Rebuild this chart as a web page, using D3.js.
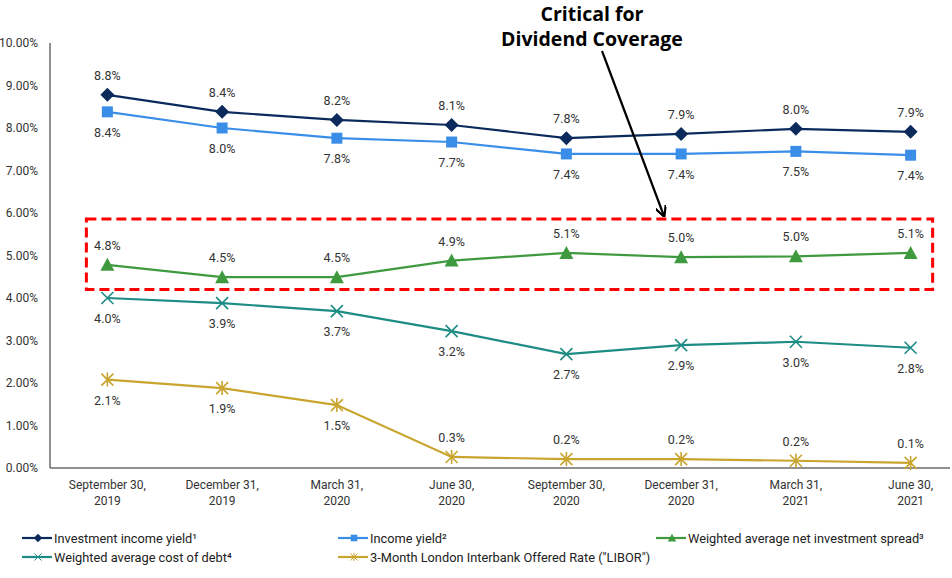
<!DOCTYPE html>
<html>
  <head>
    <style>
      body,
      html {
        margin: 0;
        padding: 0;
        background: #fff;
        font-family: "Roboto", sans-serif;
        overflow: hidden;
      }
    </style>
    <script src="https://d3js.org/d3.v7.min.js"></script>
    <title>Yield and Spread</title>
  </head>

  <body>
    <svg id="chart" width="952" height="578"></svg>

    <script>
      // quarter ends
      var dates = [
        ["September 30,", "2019"],
        ["December 31,", "2019"],
        ["March 31,", "2020"],
        ["June 30,", "2020"],
        ["September 30,", "2020"],
        ["December 31,", "2020"],
        ["March 31,", "2021"],
        ["June 30,", "2021"],
      ];
      var yTicks = [0, 1, 2, 3, 4, 5, 6, 7, 8, 9, 10];

      var investmentIncomeYield = [8.78, 8.38, 8.19, 8.07, 7.76, 7.86, 7.98, 7.91];
      var incomeYield = [8.38, 8.0, 7.76, 7.67, 7.39, 7.39, 7.45, 7.36];
      var netSpread = [4.78, 4.49, 4.49, 4.88, 5.06, 4.96, 4.98, 5.06];
      var costOfDebt = [4.0, 3.88, 3.69, 3.22, 2.68, 2.89, 2.97, 2.83];
      var libor = [2.08, 1.88, 1.48, 0.26, 0.21, 0.21, 0.17, 0.12];

      var series = [
        { name: "Investment income yield\u00b9", values: investmentIncomeYield, color: "#0b2a5b", marker: "diamond", labelPos: "above" },
        { name: "Income yield\u00b2", values: incomeYield, color: "#3a8ee8", marker: "square", labelPos: "below" },
        { name: "Weighted average net investment spread\u00b3", values: netSpread, color: "#3f9a3f", marker: "triangle", labelPos: "above" },
        { name: "Weighted average cost of debt\u2074", values: costOfDebt, color: "#1c8c84", marker: "cross", labelPos: "below" },
        { name: "3-Month London Interbank Offered Rate (\"LIBOR\")", values: libor, color: "#c9a42e", marker: "asterisk", labelPos: "libor" },
      ];

      var svg = d3.select("#chart");
      var plotLeft = 50, plotTop = 43, plotBottom = 468;

      var x = d3
        .scalePoint()
        .domain(d3.range(dates.length))
        .range([plotLeft, 968])
        .padding(0.5);

      var y = d3.scaleLinear().domain([0, 10]).range([plotBottom, plotTop]);

      // y axis labels
      var yAxis = svg
        .append("g")
        .attr("transform", "translate(" + plotLeft + ",0)")
        .call(
          d3
            .axisLeft(y)
            .tickValues(yTicks)
            .tickSize(0)
            .tickPadding(12)
            .tickFormat(function (d) {
              return d.toFixed(2) + "%";
            })
        );
      yAxis.select(".domain").remove();
      yAxis
        .selectAll("text")
        .attr("font-family", "Roboto")
        .attr("font-size", 12)
        .attr("fill", "#333");

      svg
        .append("line")
        .attr("x1", plotLeft)
        .attr("x2", plotLeft)
        .attr("y1", y(10))
        .attr("y2", y(0))
        .attr("stroke", "#6b6b6b")
        .attr("stroke-width", 1.5);

      svg
        .append("line")
        .attr("x1", plotLeft)
        .attr("x2", 950)
        .attr("y1", y(0))
        .attr("y2", y(0))
        .attr("stroke", "#6b6b6b")
        .attr("stroke-width", 1.5);

      // x labels, two lines each
      var xLab = svg
        .append("g")
        .selectAll("text")
        .data(dates)
        .enter()
        .append("text")
        .attr("text-anchor", "middle")
        .attr("font-family", "Roboto")
        .attr("font-size", 12)
        .attr("fill", "#333")
        .attr("transform", function (d, i) {
          return "translate(" + x(i) + "," + (plotBottom + 21) + ")";
        });
      xLab
        .append("tspan")
        .attr("x", 0)
        .attr("dy", 0)
        .text(function (d) {
          return d[0];
        });
      xLab
        .append("tspan")
        .attr("x", 0)
        .attr("dy", 16)
        .text(function (d) {
          return d[1];
        });

      var line = d3
        .line()
        .x(function (d, i) {
          return x(i);
        })
        .y(function (d) {
          return y(d);
        });

      function drawMarker(g, type, color) {
        if (type === "diamond") {
          g.append("path")
            .attr("d", "M0,-7L7,0L0,7L-7,0Z")
            .attr("fill", color);
        } else if (type === "square") {
          g.append("rect")
            .attr("x", -5.5)
            .attr("y", -5.5)
            .attr("width", 11)
            .attr("height", 11)
            .attr("fill", color);
        } else if (type === "triangle") {
          g.append("path")
            .attr("d", "M0,-7L7,6L-7,6Z")
            .attr("fill", color);
        } else if (type === "cross") {
          g.append("path")
            .attr("d", "M-6,-6L6,6M-6,6L6,-6")
            .attr("stroke", color)
            .attr("stroke-width", 1.6)
            .attr("fill", "none");
        } else if (type === "asterisk") {
          g.append("path")
            .attr("d", "M-6,-6L6,6M-6,6L6,-6M0,-7L0,7")
            .attr("stroke", color)
            .attr("stroke-width", 1.6)
            .attr("fill", "none");
        }
      }

      series.forEach(function (s) {
        svg
          .append("path")
          .datum(s.values)
          .attr("d", line)
          .attr("fill", "none")
          .attr("stroke", s.color)
          .attr("stroke-width", 2.2);

        s.values.forEach(function (v, i) {
          var g = svg
            .append("g")
            .attr("transform", "translate(" + x(i) + "," + y(v) + ")");
          drawMarker(g, s.marker, s.color);

          var above = s.labelPos === "above" || (s.labelPos === "libor" && i > 2);
          svg
            .append("text")
            .attr("x", x(i))
            .attr("y", above ? y(v) - 15 : y(v) + 25)
            .attr("text-anchor", "middle")
            .attr("font-family", "Roboto")
            .attr("font-size", 12.5)
            .attr("fill", "#333")
            .text(v.toFixed(1) + "%");
        });
      });

      // highlight box round the spread line
      svg
        .append("rect")
        .attr("x", x(0) - 21)
        .attr("y", y(5.86))
        .attr("width", x(7) - x(0) + 43)
        .attr("height", y(4.2) - y(5.86))
        .attr("fill", "none")
        .attr("stroke", "#ff0000")
        .attr("stroke-width", 3)
        .attr("stroke-dasharray", "10,5");

      // callout
      var defs = svg.append("defs");
      defs
        .append("marker")
        .attr("id", "arrow")
        .attr("viewBox", "0 0 10 10")
        .attr("refX", 9)
        .attr("refY", 5)
        .attr("markerWidth", 5)
        .attr("markerHeight", 5)
        .attr("orient", "auto")
        .append("path")
        .attr("d", "M0,0L10,5L0,10")
        .attr("fill", "none")
        .attr("stroke", "#000")
        .attr("stroke-width", 2);

      svg
        .append("line")
        .attr("x1", 602)
        .attr("y1", 51)
        .attr("x2", 664)
        .attr("y2", 216)
        .attr("stroke", "#000")
        .attr("stroke-width", 2.2)
        .attr("marker-end", "url(#arrow)");

      var callout = svg
        .append("text")
        .attr("text-anchor", "middle")
        .attr("font-family", "Open Sans")
        .attr("font-weight", 700)
        .attr("font-size", 19.5)
        .attr("fill", "#000");
      callout.append("tspan").attr("x", 592).attr("y", 21).text("Critical for");
      callout.append("tspan").attr("x", 592).attr("y", 46).text("Dividend Coverage");

      // legend
      var legendPos = [
        [22, 538],
        [338, 538],
        [656, 538],
        [22, 557],
        [338, 557],
      ];
      series.forEach(function (s, i) {
        var g = svg
          .append("g")
          .attr("transform", "translate(" + legendPos[i][0] + "," + legendPos[i][1] + ")");
        g.append("line")
          .attr("x1", 0)
          .attr("x2", 30)
          .attr("y1", 0)
          .attr("y2", 0)
          .attr("stroke", s.color)
          .attr("stroke-width", 2.2);
        var m = g.append("g").attr("transform", "translate(16,0) scale(0.6)");
        drawMarker(m, s.marker, s.color);
        g.append("text")
          .attr("x", 32)
          .attr("y", 4.5)
          .attr("font-family", "Roboto")
          .attr("font-size", 12.8)
          .attr("fill", "#222")
          .text(s.name);
      });
    </script>
  </body>
</html>
